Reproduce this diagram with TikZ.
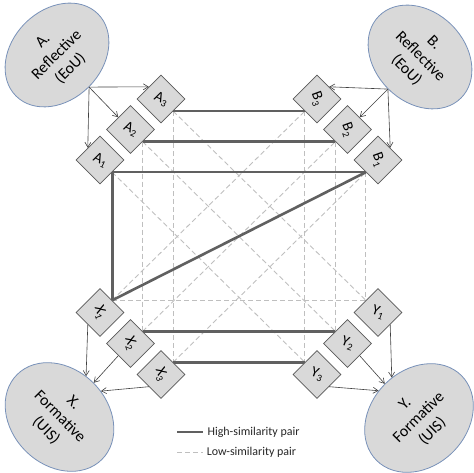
\documentclass[tikz,border=0pt]{standalone}
\usepackage{fontspec}
\setmainfont{Carlito}
\usepackage{graphicx}
\usepackage{tikz}
\usetikzlibrary{shapes.geometric, arrows.meta, backgrounds}
\definecolor{ellfill}{RGB}{217, 217, 217}
\definecolor{ellborder}{RGB}{120, 145, 185}
\definecolor{boxfill}{RGB}{217, 217, 217}
\definecolor{boxborder}{RGB}{89, 89, 89}
\definecolor{highline}{RGB}{96, 96, 96}
\definecolor{lowline}{RGB}{191, 191, 191}
\definecolor{arrowgray}{RGB}{64, 64, 64}
\newcommand{\itemsub}[1]{\raisebox{-0.4ex}{\fontsize{10}{10}\selectfont #1}}

\begin{document}
\begin{tikzpicture}[x=1bp, y=1bp,
    itembox/.style={diamond, aspect=1, draw=boxborder, fill=boxfill, line width=0.8bp,
        minimum width=48bp, minimum height=48bp, inner sep=0pt, font=\fontsize{15}{17}\selectfont},
    construct/.style={ellipse, draw=ellborder, fill=ellfill, line width=0.8bp, inner sep=0pt,
        align=center, font=\fontsize{16}{19.5}\selectfont},
    highsim/.style={draw=highline, line width=2.6bp},
    lowsim/.style={draw=lowline, line width=0.9bp, dash pattern=on 5bp off 3bp},
    feed/.style={draw=arrowgray, line width=0.6bp, -{Straight Barb[length=5bp, width=6bp]}},
    legendtext/.style={font=\fontsize{12}{14}\selectfont, text=black!85}
]
\useasboundingbox (0,0) rectangle (474,473);
\clip (0,0) rectangle (474,473);

% Constructs
\node[construct, rotate=45, minimum width=116bp, minimum height=90bp] (A) at (57,418) {A.\\Reflective\\(EoU)};
\node[construct, rotate=-45, minimum width=116bp, minimum height=90bp] (B) at (420,416) {B.\\Reflective\\(EoU)};
\node[construct, rotate=-45, minimum width=120bp, minimum height=96bp] (X) at (59.5,56) {X.\\Formative\\(UIS)};
\node[construct, rotate=45, minimum width=120bp, minimum height=96bp] (Y) at (419,55) {Y.\\Formative\\(UIS)};

% Items of A and B
\node[itembox] (A1) at (100,313) {\rotatebox{-25}{A\itemsub{1}}};
\node[itembox] (A2) at (130.5,343.5) {\rotatebox{-25}{A\itemsub{2}}};
\node[itembox] (A3) at (161,374) {\rotatebox{-25}{A\itemsub{3}}};
\node[itembox] (B1) at (378,313) {\rotatebox{-70}{B\itemsub{1}}};
\node[itembox] (B2) at (347.5,343.5) {\rotatebox{-70}{B\itemsub{2}}};
\node[itembox] (B3) at (317,374) {\rotatebox{-70}{B\itemsub{3}}};

% Items of X and Y
\node[itembox] (X1) at (100,160.5) {\rotatebox{-70}{X\itemsub{1}}};
\node[itembox] (X2) at (130.5,129.5) {\rotatebox{-70}{X\itemsub{2}}};
\node[itembox] (X3) at (161,98.5) {\rotatebox{-70}{X\itemsub{3}}};
\node[itembox] (Y1) at (378,160.5) {\rotatebox{-20}{Y\itemsub{1}}};
\node[itembox] (Y2) at (347.5,129.5) {\rotatebox{-20}{Y\itemsub{2}}};
\node[itembox] (Y3) at (317,98.5) {\rotatebox{-20}{Y\itemsub{3}}};

\begin{scope}[on background layer]
    % Low-similarity pairs
    \draw[lowsim] (A2.south east) -- (X2.north east);
    \draw[lowsim] (A3.south east) -- (X3.north east);
    \draw[lowsim] (B1.south west) -- (Y1.north west);
    \draw[lowsim] (B2.south west) -- (Y2.north west);
    \draw[lowsim] (B3.south west) -- (Y3.north west);
    \draw[lowsim] (X1.north east) -- (Y1.north west);
    \draw[lowsim] (A1.south east) -- (Y3.north west);
    \draw[lowsim] (A2.south east) -- (Y2.north west);
    \draw[lowsim] (A3.south east) -- (Y1.north west);
    \draw[lowsim] (X1.north east) -- (B3.south west);
    \draw[lowsim] (X2.north east) -- (B2.south west);
    \draw[lowsim] (X3.north east) -- (B1.south west);

    % High-similarity pairs
    \draw[highsim] (A1.south east) -- (B1.south west);
    \draw[highsim] (A2.south east) -- (B2.south west);
    \draw[highsim] (A3.south east) -- (B3.south west);
    \draw[highsim] (A1.south east) -- (X1.north east);
    \draw[highsim] (X1.north east) -- (B1.south west);
    \draw[highsim] (X2.north east) -- (Y2.north west);
    \draw[highsim] (X3.north east) -- (Y3.north west);
\end{scope}

% Reflective constructs point to their items
\draw[feed] (A.south) -- (A1.north west);
\draw[feed] (A.south) -- (A2.north west);
\draw[feed] (A.south) -- (A3.north west);
\draw[feed] (B.south) -- (B1.north east);
\draw[feed] (B.south) -- (B2.north east);
\draw[feed] (B.south) -- (B3.north east);

% Formative items point to their constructs
\draw[feed] (X1.south west) -- (X.102);
\draw[feed] (X2.south west) -- (X.90);
\draw[feed] (X3.south west) -- (X.77);
\draw[feed] (Y1.south east) -- (Y.79);
\draw[feed] (Y2.south east) -- (Y.90);
\draw[feed] (Y3.south east) -- (Y.101);

% Legend
\draw[highsim] (177,41) -- (203,41) node[right, legendtext] (highlab) {High-similarity pair};
\draw[lowsim] (177,21) -- (203,21) node[right, legendtext] (lowlab) {Low-similarity pair};
\end{tikzpicture}
\end{document}
